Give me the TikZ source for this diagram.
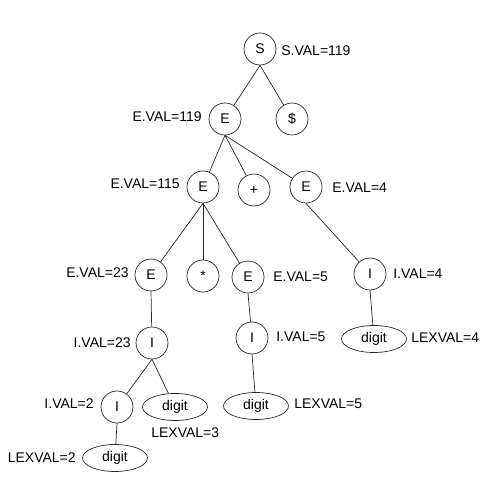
\documentclass[tikz,border=0pt]{standalone}
\usepackage{fontspec}
\setmainfont{Liberation Sans}
\usetikzlibrary{shapes.geometric}
\begin{document}
\begin{tikzpicture}[x=1pt, y=-1pt, font=\fontsize{14}{16}\selectfont,
    line width=0.7pt, draw=black!85,
    sym/.style={draw, circle, minimum size=32pt, inner sep=0pt},
    tok/.style={draw, ellipse, minimum width=65pt, minimum height=27pt, inner sep=0pt},
    attr/.style={inner sep=0pt}]
            \useasboundingbox (0,0) rectangle (498,494);
            % tree nodes
            \node[sym] (S) at (260,49) {S};
            \node[sym] (dollar) at (292,119) {\$};
            \node[sym] (E1) at (225,119) {E};
            \node[sym] (E2) at (203,187) {E};
            \node[sym] (plus) at (254,190) {+};
            \node[sym] (E3) at (306,187) {E};
            \node[sym] (E4) at (151,275) {E};
            \node[sym] (star) at (203,276) {*};
            \node[sym] (E5) at (248,277) {E};
            \node[sym] (I4) at (370,274) {I};
            \node[sym] (I23) at (152,343) {I};
            \node[sym] (I5) at (252,338) {I};
            \node[tok] (d4) at (374,339) {digit};
            \node[sym] (I2) at (117,407) {I};
            \node[tok] (d3) at (175,407) {digit};
            \node[tok] (d5) at (256,406) {digit};
            \node[tok] (d2) at (115,458) {digit};
            % edges
            \draw (S.south) -- (E1);
            \draw (S.south) -- (dollar);
            \draw (E1.south) -- (E2);
            \draw (E1.south) -- (plus);
            \draw (E1.south) -- (E3);
            \draw (E2.south) -- (E4);
            \draw (E2.south) -- (star);
            \draw (E2.south) -- (E5);
            \draw (E3.south) -- (I4);
            \draw (E4.south) -- (I23);
            \draw (I23.south) -- (I2);
            \draw (I23.south) -- (d3);
            \draw (E5.south) -- (I5);
            \draw (I5.south) -- (d5);
            \draw (I4.south) -- (d4);
            \draw (I2.south) -- (d2);
            % attribute values
            \node[attr, anchor=west] (lS) at (281,51) {S.VAL=119};
            \node[attr, anchor=east] (lE1) at (202,117) {E.VAL=119};
            \node[attr, anchor=east] (lE2) at (180,184) {E.VAL=115};
            \node[attr, anchor=west] (lE3) at (332,188) {E.VAL=4};
            \node[attr, anchor=east] (lE4) at (129,273) {E.VAL=23};
            \node[attr, anchor=west] (lE5) at (273,277) {E.VAL=5};
            \node[attr, anchor=west] (lI4) at (393,274) {I.VAL=4};
            \node[attr, anchor=east] (lI23) at (131,343) {I.VAL=23};
            \node[attr, anchor=west] (lI5) at (276,337) {I.VAL=5};
            \node[attr, anchor=west] (ld4) at (411,338) {LEXVAL=4};
            \node[attr, anchor=east] (lI2) at (94,404) {I.VAL=2};
            \node[attr, anchor=west] (ld3) at (151,433) {LEXVAL=3};
            \node[attr, anchor=west] (ld5) at (294,404) {LEXVAL=5};
            \node[attr, anchor=east] (ld2) at (76,458) {LEXVAL=2};
        \end{tikzpicture}
\end{document}
